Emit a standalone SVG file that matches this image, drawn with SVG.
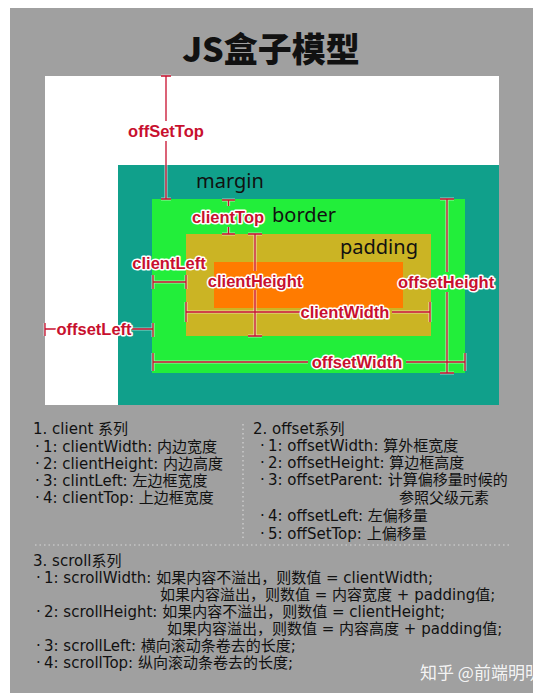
<svg xmlns="http://www.w3.org/2000/svg" width="552" height="696" viewBox="0 0 552 696">
<style>
.lbl{font-family:"Liberation Sans",Arial,sans-serif;font-weight:bold;font-size:16.5px;fill:#c8102e;stroke:#fff;stroke-width:3;paint-order:stroke;stroke-linejoin:round;text-anchor:middle;dominant-baseline:central}
.box{font-family:"Noto Sans","Liberation Sans",sans-serif;font-size:20px;fill:#111}
.tx{font-family:"DejaVu Sans","Noto Sans CJK SC",sans-serif;font-size:15px;fill:#111}
.ln{fill:none;stroke:#c8102e;stroke-width:1.3}
.halo{fill:none;stroke:#fff;stroke-width:3.2;stroke-opacity:0.55}
.dot{fill:none;stroke:#d6d6d6;stroke-width:1.2;stroke-dasharray:1.5 3}
</style>
<rect x="0" y="0" width="552" height="696" fill="#fff"/>
<rect x="10" y="8" width="523" height="685" fill="#a0a0a0"/>
<text x="271" y="62" text-anchor="middle" font-family="'Noto Sans CJK SC','Liberation Sans',sans-serif" font-weight="900" font-size="34" fill="#111">JS盒子模型</text>
<g id="window"><rect x="45" y="76" width="454" height="329" fill="#fff"/></g>
<g id="margin"><rect x="118" y="165" width="381" height="240" fill="#10a08b"/><text class="box" x="196" y="188">margin</text></g>
<g id="border"><rect x="152" y="199" width="313" height="174" fill="#22ee3a"/><text class="box" x="272" y="222">border</text></g>
<g id="padding"><rect x="186" y="234" width="245" height="102" fill="#cbb424"/><text class="box" x="340" y="254">padding</text></g>
<g id="content"><rect x="214" y="262" width="189" height="46" fill="#ff7b00"/></g>
<g id="connectors">
<g class="halo">
<path d="M166 76V121M166 141V199M161 76H171M161 199H171"/>
<path d="M222 200H235M228.5 200V206M228.5 227V234M222 234H235"/>
<path d="M153 282H186M153 275V289M186 275V289"/>
<path d="M255 234V271M255 290V336M248 234H262M248 336H262"/>
<path d="M186 312H300M392 312H430M186 302V322M430 302V322"/>
<path d="M153 362H308M406 362H465M153 353V371M465 353V371"/>
<path d="M447 199V272M447 292V373M440 199H454M440 373H454"/>
<path d="M45 329H57M132 329H153M45 323V336M153 323V337"/>
</g>
<g class="ln">
<path d="M166 76V121M166 141V199M161 76H171M161 199H171"/>
<path d="M222 200H235M228.5 200V206M228.5 227V234M222 234H235"/>
<path d="M153 282H186M153 275V289M186 275V289"/>
<path d="M255 234V271M255 290V336M248 234H262M248 336H262"/>
<path d="M186 312H300M392 312H430M186 302V322M430 302V322"/>
<path d="M153 362H308M406 362H465M153 353V371M465 353V371"/>
<path d="M447 199V272M447 292V373M440 199H454M440 373H454"/>
<path d="M45 329H57M132 329H153M45 323V336M153 323V337"/>
</g>
<text class="lbl" x="166" y="131">offSetTop</text>
<text class="lbl" x="228" y="217">clientTop</text>
<text class="lbl" x="169" y="263">clientLeft</text>
<text class="lbl" x="255" y="281">clientHeight</text>
<text class="lbl" x="345" y="312">clientWidth</text>
<text class="lbl" x="357" y="362">offsetWidth</text>
<text class="lbl" x="446" y="282">offsetHeight</text>
<text class="lbl" x="94" y="329">offsetLeft</text>
</g>
<g id="separators">
<path class="dot" d="M243 424V538"/>
<path class="dot" d="M35 545H512"/>
</g>
<g id="client-list" class="tx">
<text x="33" y="434">1. client 系列</text>
<text x="35" y="452">·<tspan x="43">1: clientWidth: 内边宽度</tspan></text>
<text x="35" y="469">·<tspan x="43">2: clientHeight: 内边高度</tspan></text>
<text x="35" y="486">·<tspan x="43">3: clintLeft: 左边框宽度</tspan></text>
<text x="35" y="503">·<tspan x="43">4: clientTop: 上边框宽度</tspan></text>
</g>
<g id="offset-list" class="tx">
<text x="253" y="434">2. offset系列</text>
<text x="260" y="451">·<tspan x="268">1: offsetWidth: 算外框宽度</tspan></text>
<text x="260" y="468">·<tspan x="268">2: offsetHeight: 算边框高度</tspan></text>
<text x="260" y="485">·<tspan x="268">3: offsetParent: 计算偏移量时候的</tspan></text>
<text x="399" y="503">参照父级元素</text>
<text x="260" y="521">·<tspan x="268">4: offsetLeft: 左偏移量</tspan></text>
<text x="260" y="539">·<tspan x="268">5: offSetTop: 上偏移量</tspan></text>
</g>
<g id="scroll-list" class="tx">
<text x="33" y="566">3. scroll系列</text>
<text x="36" y="583">·<tspan x="44">1: scrollWidth: 如果内容不溢出，则数值 = clientWidth;</tspan></text>
<text x="160" y="600">如果内容溢出，则数值 = 内容宽度 + padding值;</text>
<text x="36" y="617">·<tspan x="44">2: scrollHeight: 如果内容不溢出，则数值 = clientHeight;</tspan></text>
<text x="167" y="634">如果内容溢出，则数值 = 内容高度 + padding值;</text>
<text x="36" y="651">·<tspan x="44">3: scrollLeft: 横向滚动条卷去的长度;</tspan></text>
<text x="36" y="668">·<tspan x="44">4: scrollTop: 纵向滚动条卷去的长度;</tspan></text>
</g>
<text x="420" y="679" font-family="'Noto Sans CJK SC',sans-serif" font-size="17" fill="#fff" fill-opacity="0.9">知乎 @前端明明</text>
</svg>
